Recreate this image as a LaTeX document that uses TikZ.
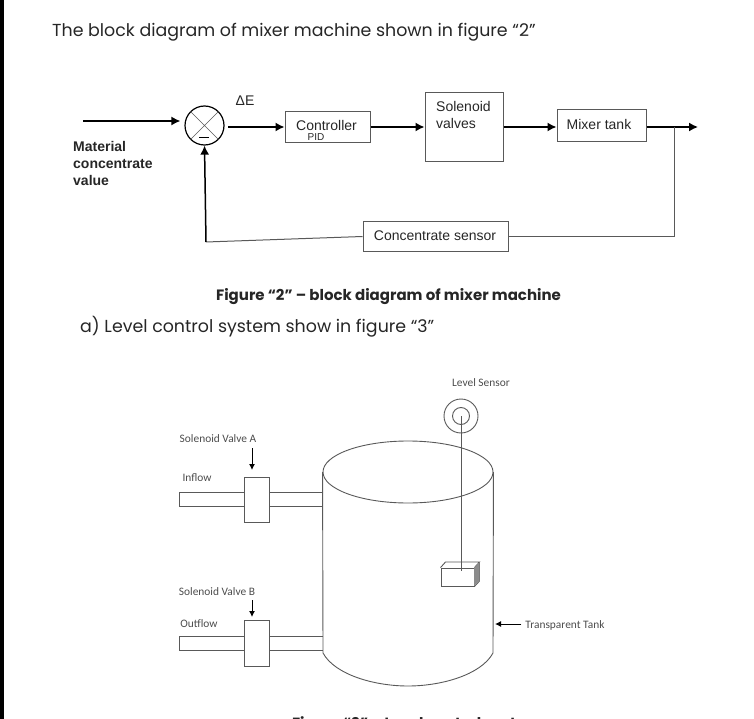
\documentclass[tikz,border=0pt]{standalone}
\usepackage{fontspec}
\setmainfont{Poppins}
\newfontfamily\arialfont{Liberation Sans}
\newfontfamily\calfont{Carlito}
\usetikzlibrary{arrows.meta,shapes.geometric}
\definecolor{linegray}{gray}{0.35}
\definecolor{labelgray}{gray}{0.3}
\tikzset{
	blockbox/.style={draw=linegray,line width=1pt,inner sep=0pt},
	blocktext/.style={font=\arialfont\fontsize{14}{17.5}\selectfont,text=black!85,inner sep=0pt},
	heading/.style={font=\fontsize{17.4}{20}\selectfont,text=black!85,inner sep=0pt},
	figcaption/.style={font=\fontsize{15}{18}\selectfont\bfseries,text=black!85,inner sep=0pt},
	small/.style={font=\calfont\fontsize{11.4}{13}\selectfont,text=labelgray,inner sep=0pt},
	flow/.style={line width=1.5pt,black,-{Latex[length=9pt,width=9pt]}},
	thin flow/.style={line width=1pt,black,-{Latex[length=6pt,width=6pt]}},
	plant/.style={draw=linegray,line width=.9pt},
}
\begin{document}
\begin{tikzpicture}[x=1pt,y=-1pt]
	\useasboundingbox (0,0) rectangle (754,719);
	\fill[black] (0,0) rectangle (3.5,719);
	\node[heading,anchor=west] (title) at (52,32) {The block diagram of mixer machine shown in figure ``2''};
	% block diagram
	\coordinate (start) at (83,121);
	\node[circle,draw=black,line width=1.2pt,minimum size=39pt,inner sep=0pt] (sum) at (204.5,125.5) {};
	\draw[linegray] (sum.45) -- (sum.225) (sum.135) -- (sum.315);
	\draw[black,line width=.8pt] (199,137.5) -- (209,137.5);
	\node[blocktext] (delta) at (245,101) {ΔE};
	\node[blockbox,minimum width=85pt,minimum height=31pt] (controller) at (327.5,127.5) {};
	\node[blocktext] (controllertext) at (326.5,125.5) {Controller};
	\node[inner sep=0pt,font=\arialfont\fontsize{10}{11}\selectfont,text=black!85] (pid) at (316,137) {PID};
	\node[blockbox,minimum width=78pt,minimum height=69pt] (solenoid) at (464,127.5) {};
	\node[blocktext,align=left,anchor=north west] (solenoidtext) at (436,101) {Solenoid\\valves};
	\node[blockbox,minimum width=89pt,minimum height=32pt] (mixer) at (601.5,126) {};
	\node[blocktext] (mixertext) at (599,124) {Mixer tank};
	\node[blockbox,minimum width=145pt,minimum height=29pt] (sensor) at (435.5,236.5) {};
	\node[blocktext] (sensortext) at (435,236) {Concentrate sensor};
	\node[font=\arialfont\bfseries\fontsize{14}{17}\selectfont,align=left,inner sep=0pt,anchor=north west,text=black!85] (material) at (73,141) {Material\\concentrate\\value};
	\coordinate (out) at (698,127);
	\coordinate (branch) at (674,127);
	\coordinate (corner) at (206,242);
	\draw[flow,shorten >=4pt] (start) -- (sum.west |- start);
	\draw[flow] (228,127) -- (controller.west |- 0,127);
	\draw[flow] (controller.east |- 0,127) -- (solenoid.west |- 0,127);
	\draw[flow] (solenoid.east |- 0,127) -- (mixer.west |- 0,127);
	\draw[flow] (mixer.east |- out) -- (out);
	\draw[linegray,line width=1pt] (branch) |- (sensor.east);
	\draw[linegray,line width=1pt] (sensor.west) -- (corner);
	\draw[flow] (corner) -- (sum.south);
	\node[figcaption] (caption) at (388.5,297) {Figure ``2'' -- block diagram of mixer machine};
	\node[heading,anchor=west] (parta) at (80,327) {a) Level control system show in figure ``3''};
	% level control system
	\node[plant,ellipse,minimum width=170pt,minimum height=62pt,inner sep=0pt] (tanktop) at (408,472) {};
	\draw[plant] (tanktop.west) -- (323,653) .. controls (335,675) and (375,686) .. (408,686) .. controls (441,686) and (481,675) .. (493,653) -- (tanktop.east);
	\draw[plant] (323,492) -- (179,492) -- (179,506) -- (323,506);
	\draw[plant] (323,636) -- (179,636) -- (179,650) -- (323,650);
	\node[blockbox,fill=white,plant,minimum width=25pt,minimum height=45pt] (valvea) at (256.5,499.5) {};
	\node[blockbox,fill=white,plant,minimum width=25pt,minimum height=46pt] (valveb) at (256.5,643) {};
	\node[small] (valvealabel) at (218,439) {Solenoid Valve A};
	\node[small] (valveblabel) at (217,592) {Solenoid Valve B};
	\node[small] (inflow) at (197,478) {Inflow};
	\node[small] (outflow) at (199,624) {Outflow};
	\node[small] (levellabel) at (481,383) {Level Sensor};
	\node[small] (tanklabel) at (565,625) {Transparent Tank};
	\coordinate (avalve) at (252,448);
	\coordinate (bvalve) at (252,600);
	\coordinate (tankside) at (495,624);
	\draw[thin flow] (avalve) -- (252,470);
	\draw[thin flow] (bvalve) -- (252,617);
	\draw[thin flow] (tanklabel.west) ++(-4,-1) -- (tankside);
	% sensor and float
	\node[circle,plant,minimum size=34pt,inner sep=0pt] (outer) at (461,416) {};
	\node[circle,plant,minimum size=17pt,inner sep=0pt] (inner) at (461,416) {};
	\node[plant,minimum width=33pt,minimum height=18pt,inner sep=0pt] (float) at (457.5,577) {};
	\draw[plant] (float.north west) -- (445.5,562) -- (479.5,562) -- (float.north east) (479.5,562) -- (479.5,581) -- (float.south east);
	\fill[linegray!70] (474,568) -- (479.5,562) -- (479.5,581) -- (474,586) -- cycle;
	\draw[plant] (inner.center) -- (461,571);
	\node[figcaption,font=\fontsize{14.8}{18}\selectfont\bfseries] (captionb) at (416.5,725) {Figure ``3'' -- Level control system};
\end{tikzpicture}
\end{document}
